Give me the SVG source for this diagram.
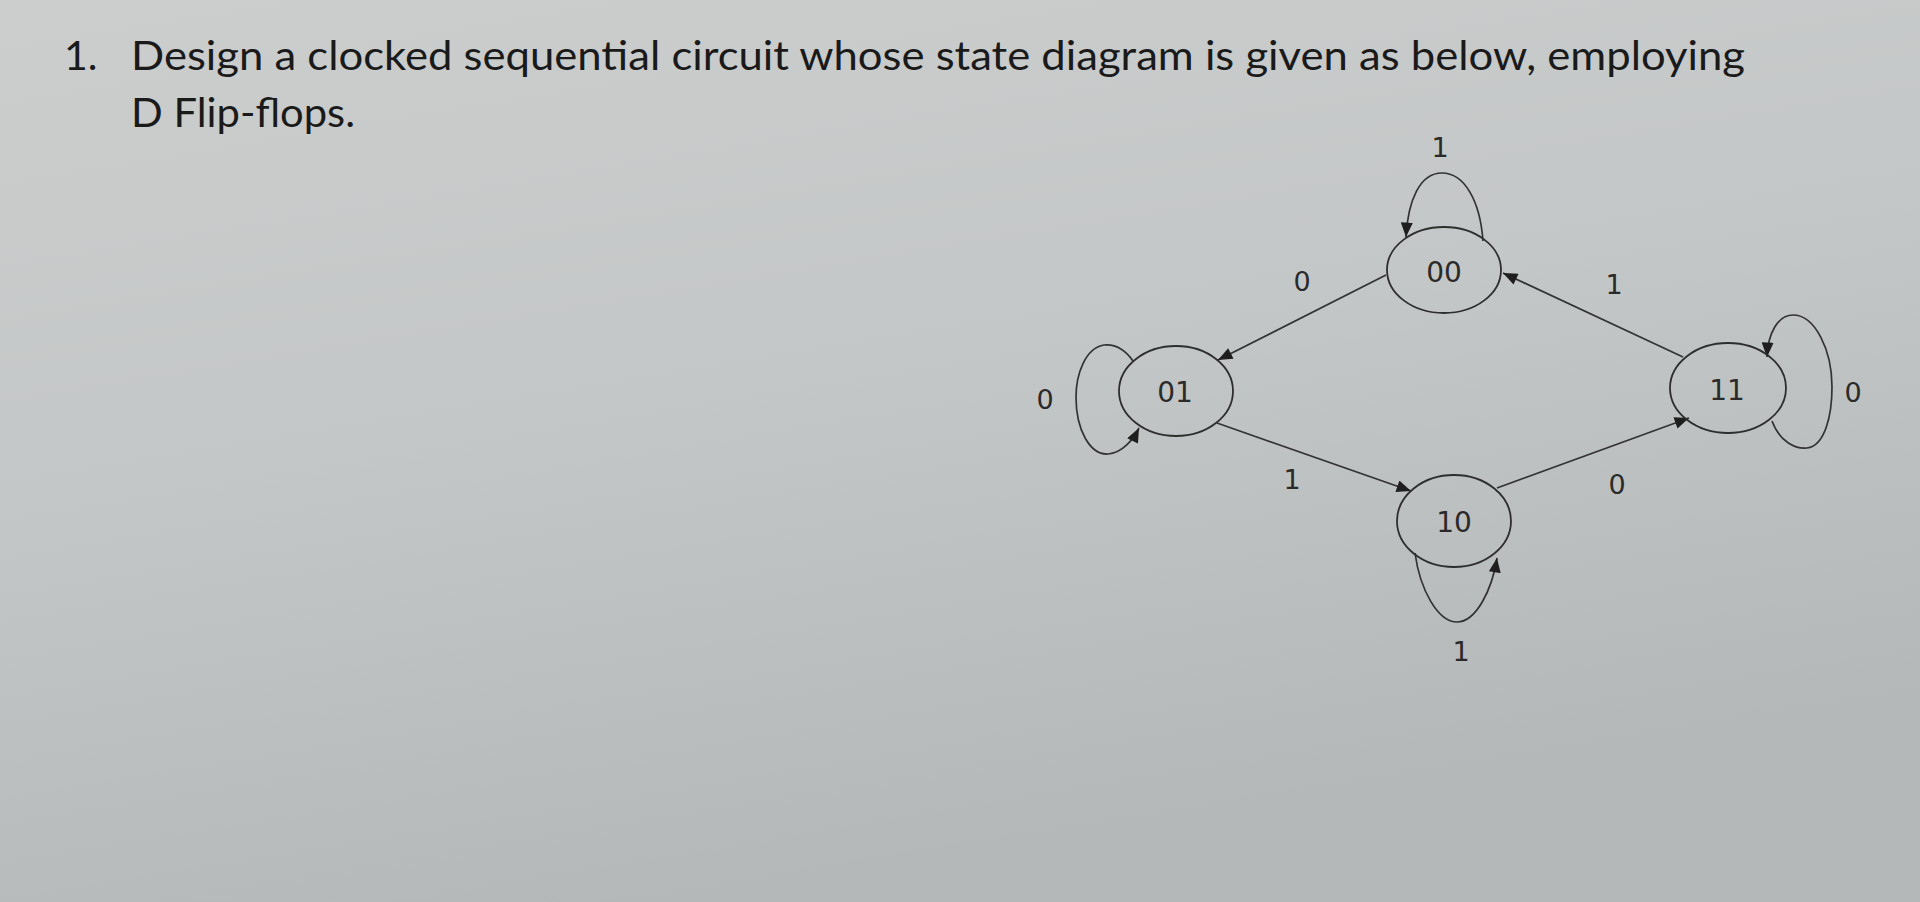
<svg xmlns="http://www.w3.org/2000/svg" width="1920" height="902" viewBox="0 0 1920 902">
<defs>
<linearGradient id="bg" x1="0" y1="0" x2="0.35" y2="1">
<stop offset="0" stop-color="#cbcecd"/>
<stop offset="0.5" stop-color="#c4c7c7"/>
<stop offset="1" stop-color="#b4b8b9"/>
</linearGradient>
<marker id="arr" viewBox="0 0 12 10" refX="12" refY="5" markerWidth="15" markerHeight="12" markerUnits="userSpaceOnUse" orient="auto">
<path d="M0,0 L12,5 L0,10 z" fill="#1e1e1e"/>
</marker>
<style>
.title{font-family:"Lato","Open Sans",sans-serif;font-size:41px;fill:#1a1a1a}
.st{fill:none;stroke:#2e2e2e;stroke-width:1.8}
.lbl{font-family:"DejaVu Sans",sans-serif;font-size:28px;fill:#2a2a2a;text-anchor:middle;dominant-baseline:central}
.elbl{font-family:"DejaVu Sans",sans-serif;font-size:27px;fill:#2a2a2a;text-anchor:middle;dominant-baseline:central}
.edge{fill:none;stroke:#333;stroke-width:1.7;marker-end:url(#arr)}
</style>
</defs>
<rect width="1920" height="902" fill="url(#bg)"/>
<g id="title">
<text class="title" x="64" y="70">1.</text>
<text class="title" x="131" y="70" textLength="1614" lengthAdjust="spacingAndGlyphs">Design a clocked sequential circuit whose state diagram is given as below, employing</text>
<text class="title" x="131" y="127" textLength="224" lengthAdjust="spacingAndGlyphs">D Flip-flops.</text>
</g>
<g id="connectors">
<path class="edge" d="M1386,275 L1218,360"/>
<path class="edge" d="M1217,423 L1411,491"/>
<path class="edge" d="M1497,488 L1689,418"/>
<path class="edge" d="M1683,357 L1503,273"/>
<path class="edge" d="M1483,241 C1480,200 1464,173 1442,173 C1420,173 1408,200 1406,237"/>
<path class="edge" d="M1133,361 C1124,348 1114,344 1104,345 C1085,348 1076,375 1076,397 C1076,430 1090,455 1108,454 C1122,453 1133,440 1139,428"/>
<path class="edge" d="M1415,553 C1420,590 1438,622 1457,622 C1476,622 1492,590 1497,558"/>
<path class="edge" d="M1772,421 C1780,442 1795,449 1807,448 C1825,446 1832,415 1832,387 C1832,350 1815,315 1793,315 C1778,315 1768,333 1767,357"/>
</g>
<g id="edge-labels">
<text class="elbl" x="1440" y="147">1</text>
<text class="elbl" x="1302" y="281">0</text>
<text class="elbl" x="1614" y="284">1</text>
<text class="elbl" x="1045" y="399">0</text>
<text class="elbl" x="1853" y="392">0</text>
<text class="elbl" x="1292" y="479">1</text>
<text class="elbl" x="1617" y="484">0</text>
<text class="elbl" x="1461" y="651">1</text>
</g>
<g id="node-00">
<ellipse class="st" cx="1444" cy="270" rx="57" ry="43"/>
<text class="lbl" x="1444" y="272">00</text>
</g>
<g id="node-01">
<ellipse class="st" cx="1176" cy="391" rx="57" ry="45"/>
<text class="lbl" x="1175" y="392">01</text>
</g>
<g id="node-10">
<ellipse class="st" cx="1454" cy="521" rx="57" ry="46"/>
<text class="lbl" x="1454" y="522">10</text>
</g>
<g id="node-11">
<ellipse class="st" cx="1728" cy="388" rx="58" ry="45"/>
<text class="lbl" x="1727" y="390">11</text>
</g>
</svg>
